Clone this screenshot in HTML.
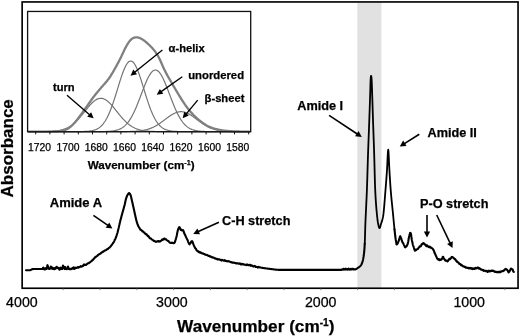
<!DOCTYPE html>
<html><head><meta charset="utf-8"><title>FTIR spectrum</title>
<style>
html,body{margin:0;padding:0;background:#fff;}
svg{display:block;font-family:"Liberation Sans",sans-serif;}
.b{font-weight:bold;}
</style></head><body>
<svg width="520" height="336" viewBox="0 0 520 336">
<rect width="520" height="336" fill="#fff"/>
<rect x="357.3" y="2.5" width="24.1" height="285.5" fill="#e1e1e1"/>
<rect x="22.15" y="1.95" width="495.9" height="286.3" fill="none" stroke="#000" stroke-width="1.65"/>
<line x1="63.20" y1="288.5" x2="63.20" y2="290.1" stroke="#777" stroke-width="0.9"/><line x1="100.00" y1="288.5" x2="100.00" y2="290.1" stroke="#777" stroke-width="0.9"/><line x1="136.80" y1="288.5" x2="136.80" y2="290.1" stroke="#777" stroke-width="0.9"/><line x1="173.60" y1="288.5" x2="173.60" y2="290.1" stroke="#777" stroke-width="0.9"/><line x1="210.40" y1="288.5" x2="210.40" y2="290.1" stroke="#777" stroke-width="0.9"/><line x1="247.20" y1="288.5" x2="247.20" y2="290.1" stroke="#777" stroke-width="0.9"/><line x1="284.00" y1="288.5" x2="284.00" y2="290.1" stroke="#777" stroke-width="0.9"/><line x1="320.80" y1="288.5" x2="320.80" y2="290.1" stroke="#777" stroke-width="0.9"/><line x1="357.60" y1="288.5" x2="357.60" y2="290.1" stroke="#777" stroke-width="0.9"/><line x1="394.40" y1="288.5" x2="394.40" y2="290.1" stroke="#777" stroke-width="0.9"/><line x1="431.20" y1="288.5" x2="431.20" y2="290.1" stroke="#777" stroke-width="0.9"/><line x1="468.00" y1="288.5" x2="468.00" y2="290.1" stroke="#777" stroke-width="0.9"/><line x1="504.80" y1="288.5" x2="504.80" y2="290.1" stroke="#777" stroke-width="0.9"/>
<g fill="none" stroke="#737373" stroke-width="1.2" stroke-linejoin="round">
<path d="M28.20,131.60 L28.70,131.60 L29.20,131.60 L29.70,131.60 L30.20,131.60 L30.70,131.60 L31.20,131.60 L31.70,131.60 L32.20,131.60 L32.70,131.60 L33.20,131.60 L33.70,131.59 L34.20,131.59 L34.70,131.59 L35.20,131.59 L35.70,131.59 L36.20,131.59 L36.70,131.59 L37.20,131.59 L37.70,131.59 L38.20,131.58 L38.70,131.58 L39.20,131.58 L39.70,131.58 L40.20,131.57 L40.70,131.57 L41.20,131.57 L41.70,131.56 L42.20,131.56 L42.70,131.55 L43.20,131.55 L43.70,131.54 L44.20,131.54 L44.70,131.53 L45.20,131.52 L45.70,131.51 L46.20,131.50 L46.70,131.49 L47.20,131.48 L47.70,131.46 L48.20,131.45 L48.70,131.43 L49.20,131.42 L49.70,131.40 L50.20,131.38 L50.70,131.35 L51.20,131.33 L51.70,131.30 L52.20,131.27 L52.70,131.24 L53.20,131.20 L53.70,131.16 L54.20,131.12 L54.70,131.08 L55.20,131.03 L55.70,130.97 L56.20,130.92 L56.70,130.85 L57.20,130.79 L57.70,130.72 L58.20,130.64 L58.70,130.56 L59.20,130.47 L59.70,130.37 L60.20,130.27 L60.70,130.16 L61.20,130.04 L61.70,129.92 L62.20,129.79 L62.70,129.65 L63.20,129.50 L63.70,129.34 L64.20,129.17 L64.70,128.99 L65.20,128.80 L65.70,128.60 L66.20,128.39 L66.70,128.16 L67.20,127.93 L67.70,127.68 L68.20,127.42 L68.70,127.15 L69.20,126.86 L69.70,126.56 L70.20,126.25 L70.70,125.93 L71.20,125.58 L71.70,125.23 L72.20,124.86 L72.70,124.48 L73.20,124.08 L73.70,123.67 L74.20,123.24 L74.70,122.80 L75.20,122.34 L75.70,121.87 L76.20,121.39 L76.70,120.89 L77.20,120.38 L77.70,119.86 L78.20,119.32 L78.70,118.77 L79.20,118.21 L79.70,117.64 L80.20,117.06 L80.70,116.47 L81.20,115.88 L81.70,115.27 L82.20,114.66 L82.70,114.04 L83.20,113.42 L83.70,112.79 L84.20,112.16 L84.70,111.53 L85.20,110.90 L85.70,110.27 L86.20,109.64 L86.70,109.02 L87.20,108.40 L87.70,107.78 L88.20,107.18 L88.70,106.58 L89.20,106.00 L89.70,105.42 L90.20,104.86 L90.70,104.32 L91.20,103.79 L91.70,103.27 L92.20,102.78 L92.70,102.31 L93.20,101.85 L93.70,101.42 L94.20,101.02 L94.70,100.63 L95.20,100.28 L95.70,99.95 L96.20,99.65 L96.70,99.38 L97.20,99.13 L97.70,98.92 L98.20,98.74 L98.70,98.59 L99.20,98.47 L99.70,98.38 L100.20,98.32 L100.70,98.30 L101.20,98.31 L101.70,98.35 L102.20,98.43 L102.70,98.53 L103.20,98.67 L103.70,98.84 L104.20,99.04 L104.70,99.27 L105.20,99.54 L105.70,99.83 L106.20,100.14 L106.70,100.49 L107.20,100.86 L107.70,101.26 L108.20,101.68 L108.70,102.12 L109.20,102.59 L109.70,103.07 L110.20,103.58 L110.70,104.10 L111.20,104.64 L111.70,105.20 L112.20,105.77 L112.70,106.35 L113.20,106.94 L113.70,107.54 L114.20,108.15 L114.70,108.77 L115.20,109.39 L115.70,110.02 L116.20,110.65 L116.70,111.28 L117.20,111.91 L117.70,112.54 L118.20,113.17 L118.70,113.79 L119.20,114.41 L119.70,115.03 L120.20,115.63 L120.70,116.23 L121.20,116.83 L121.70,117.41 L122.20,117.99 L122.70,118.55 L123.20,119.10 L123.70,119.64 L124.20,120.17 L124.70,120.69 L125.20,121.19 L125.70,121.68 L126.20,122.16 L126.70,122.62 L127.20,123.06 L127.70,123.50 L128.20,123.92 L128.70,124.32 L129.20,124.71 L129.70,125.08 L130.20,125.44 L130.70,125.79 L131.20,126.12 L131.70,126.44 L132.20,126.75 L132.70,127.04 L133.20,127.31 L133.70,127.58 L134.20,127.83 L134.70,128.07 L135.20,128.30 L135.70,128.51 L136.20,128.72 L136.70,128.91 L137.20,129.10 L137.70,129.27 L138.20,129.43 L138.70,129.59 L139.20,129.73 L139.70,129.87 L140.20,129.99 L140.70,130.11 L141.20,130.23 L141.70,130.33 L142.20,130.43 L142.70,130.52 L143.20,130.61 L143.70,130.69 L144.20,130.76 L144.70,130.83 L145.20,130.89 L145.70,130.95 L146.20,131.01 L146.70,131.06 L147.20,131.10 L147.70,131.15 L148.20,131.19 L148.70,131.22 L149.20,131.26 L149.70,131.29 L150.20,131.32 L150.70,131.34 L151.20,131.37 L151.70,131.39 L152.20,131.41 L152.70,131.43 L153.20,131.44 L153.70,131.46 L154.20,131.47 L154.70,131.49 L155.20,131.50 L155.70,131.51 L156.20,131.52 L156.70,131.53 L157.20,131.53 L157.70,131.54 L158.20,131.55 L158.70,131.55 L159.20,131.56 L159.70,131.56 L160.20,131.57 L160.70,131.57 L161.20,131.57 L161.70,131.58 L162.20,131.58 L162.70,131.58 L163.20,131.58 L163.70,131.59 L164.20,131.59 L164.70,131.59 L165.20,131.59 L165.70,131.59 L166.20,131.59 L166.70,131.59 L167.20,131.59 L167.70,131.59 L168.20,131.60 L168.70,131.60 L169.20,131.60 L169.70,131.60 L170.20,131.60 L170.70,131.60 L171.20,131.60 L171.70,131.60 L172.20,131.60 L172.70,131.60 L173.20,131.60 L173.70,131.60 L174.20,131.60 L174.70,131.60 L175.20,131.60 L175.70,131.60 L176.20,131.60 L176.70,131.60 L177.20,131.60 L177.70,131.60 L178.20,131.60 L178.70,131.60 L179.20,131.60 L179.70,131.60 L180.20,131.60 L180.70,131.60 L181.20,131.60 L181.70,131.60 L182.20,131.60 L182.70,131.60 L183.20,131.60 L183.70,131.60 L184.20,131.60 L184.70,131.60 L185.20,131.60 L185.70,131.60 L186.20,131.60 L186.70,131.60 L187.20,131.60 L187.70,131.60 L188.20,131.60 L188.70,131.60 L189.20,131.60 L189.70,131.60 L190.20,131.60 L190.70,131.60 L191.20,131.60 L191.70,131.60 L192.20,131.60 L192.70,131.60 L193.20,131.60 L193.70,131.60 L194.20,131.60 L194.70,131.60 L195.20,131.60 L195.70,131.60 L196.20,131.60 L196.70,131.60 L197.20,131.60 L197.70,131.60 L198.20,131.60 L198.70,131.60 L199.20,131.60 L199.70,131.60 L200.20,131.60 L200.70,131.60 L201.20,131.60 L201.70,131.60 L202.20,131.60 L202.70,131.60 L203.20,131.60 L203.70,131.60 L204.20,131.60 L204.70,131.60 L205.20,131.60 L205.70,131.60 L206.20,131.60 L206.70,131.60 L207.20,131.60 L207.70,131.60 L208.20,131.60 L208.70,131.60 L209.20,131.60 L209.70,131.60 L210.20,131.60 L210.70,131.60 L211.20,131.60 L211.70,131.60 L212.20,131.60 L212.70,131.60 L213.20,131.60 L213.70,131.60 L214.20,131.60 L214.70,131.60 L215.20,131.60 L215.70,131.60 L216.20,131.60 L216.70,131.60 L217.20,131.60 L217.70,131.60 L218.20,131.60 L218.70,131.60 L219.20,131.60 L219.70,131.60 L220.20,131.60 L220.70,131.60 L221.20,131.60 L221.70,131.60 L222.20,131.60 L222.70,131.60 L223.20,131.60 L223.70,131.60 L224.20,131.60 L224.70,131.60 L225.20,131.60 L225.70,131.60 L226.20,131.60 L226.70,131.60 L227.20,131.60 L227.70,131.60 L228.20,131.60 L228.70,131.60 L229.20,131.60 L229.70,131.60 L230.20,131.60 L230.70,131.60 L231.20,131.60 L231.70,131.60 L232.20,131.60 L232.70,131.60 L233.20,131.60 L233.70,131.60 L234.20,131.60 L234.70,131.60 L235.20,131.60 L235.70,131.60 L236.20,131.60 L236.70,131.60 L237.20,131.60 L237.70,131.60 L238.20,131.60 L238.70,131.60 L239.20,131.60 L239.70,131.60 L240.20,131.60 L240.70,131.60 L241.20,131.60 L241.70,131.60 L242.20,131.60 L242.70,131.60 L243.20,131.60 L243.70,131.60 L244.20,131.60 L244.70,131.60 L245.20,131.60 L245.70,131.60 L246.20,131.60 L246.70,131.60 L247.20,131.60 L247.70,131.60 L248.20,131.60 L248.70,131.60 L249.20,131.60 L249.70,131.60"/>
<path d="M28.20,131.60 L28.70,131.60 L29.20,131.60 L29.70,131.60 L30.20,131.60 L30.70,131.60 L31.20,131.60 L31.70,131.60 L32.20,131.60 L32.70,131.60 L33.20,131.60 L33.70,131.60 L34.20,131.60 L34.70,131.60 L35.20,131.60 L35.70,131.60 L36.20,131.60 L36.70,131.60 L37.20,131.60 L37.70,131.60 L38.20,131.60 L38.70,131.60 L39.20,131.60 L39.70,131.60 L40.20,131.60 L40.70,131.60 L41.20,131.60 L41.70,131.60 L42.20,131.60 L42.70,131.60 L43.20,131.60 L43.70,131.60 L44.20,131.60 L44.70,131.60 L45.20,131.60 L45.70,131.60 L46.20,131.60 L46.70,131.60 L47.20,131.60 L47.70,131.60 L48.20,131.60 L48.70,131.60 L49.20,131.60 L49.70,131.60 L50.20,131.60 L50.70,131.60 L51.20,131.60 L51.70,131.60 L52.20,131.60 L52.70,131.60 L53.20,131.60 L53.70,131.60 L54.20,131.60 L54.70,131.60 L55.20,131.60 L55.70,131.60 L56.20,131.60 L56.70,131.60 L57.20,131.60 L57.70,131.60 L58.20,131.60 L58.70,131.60 L59.20,131.60 L59.70,131.60 L60.20,131.60 L60.70,131.60 L61.20,131.60 L61.70,131.60 L62.20,131.60 L62.70,131.60 L63.20,131.60 L63.70,131.60 L64.20,131.60 L64.70,131.60 L65.20,131.60 L65.70,131.60 L66.20,131.60 L66.70,131.60 L67.20,131.60 L67.70,131.60 L68.20,131.60 L68.70,131.60 L69.20,131.60 L69.70,131.60 L70.20,131.60 L70.70,131.60 L71.20,131.60 L71.70,131.60 L72.20,131.60 L72.70,131.60 L73.20,131.60 L73.70,131.59 L74.20,131.59 L74.70,131.59 L75.20,131.59 L75.70,131.59 L76.20,131.59 L76.70,131.59 L77.20,131.58 L77.70,131.58 L78.20,131.58 L78.70,131.57 L79.20,131.57 L79.70,131.56 L80.20,131.56 L80.70,131.55 L81.20,131.54 L81.70,131.54 L82.20,131.53 L82.70,131.51 L83.20,131.50 L83.70,131.49 L84.20,131.47 L84.70,131.45 L85.20,131.43 L85.70,131.41 L86.20,131.38 L86.70,131.35 L87.20,131.32 L87.70,131.28 L88.20,131.23 L88.70,131.19 L89.20,131.13 L89.70,131.07 L90.20,131.01 L90.70,130.93 L91.20,130.85 L91.70,130.76 L92.20,130.66 L92.70,130.55 L93.20,130.43 L93.70,130.29 L94.20,130.14 L94.70,129.98 L95.20,129.80 L95.70,129.61 L96.20,129.40 L96.70,129.17 L97.20,128.92 L97.70,128.64 L98.20,128.35 L98.70,128.03 L99.20,127.68 L99.70,127.31 L100.20,126.90 L100.70,126.47 L101.20,126.01 L101.70,125.51 L102.20,124.98 L102.70,124.41 L103.20,123.80 L103.70,123.16 L104.20,122.48 L104.70,121.75 L105.20,120.98 L105.70,120.17 L106.20,119.32 L106.70,118.42 L107.20,117.47 L107.70,116.48 L108.20,115.45 L108.70,114.37 L109.20,113.24 L109.70,112.07 L110.20,110.85 L110.70,109.59 L111.20,108.28 L111.70,106.94 L112.20,105.55 L112.70,104.13 L113.20,102.67 L113.70,101.18 L114.20,99.66 L114.70,98.11 L115.20,96.54 L115.70,94.95 L116.20,93.34 L116.70,91.72 L117.20,90.09 L117.70,88.45 L118.20,86.82 L118.70,85.19 L119.20,83.58 L119.70,81.98 L120.20,80.40 L120.70,78.84 L121.20,77.32 L121.70,75.84 L122.20,74.40 L122.70,73.01 L123.20,71.67 L123.70,70.39 L124.20,69.18 L124.70,68.03 L125.20,66.96 L125.70,65.96 L126.20,65.04 L126.70,64.22 L127.20,63.48 L127.70,62.83 L128.20,62.27 L128.70,61.82 L129.20,61.46 L129.70,61.21 L130.20,61.05 L130.70,61.00 L131.20,61.05 L131.70,61.21 L132.20,61.46 L132.70,61.82 L133.20,62.27 L133.70,62.83 L134.20,63.48 L134.70,64.22 L135.20,65.04 L135.70,65.96 L136.20,66.96 L136.70,68.03 L137.20,69.18 L137.70,70.39 L138.20,71.67 L138.70,73.01 L139.20,74.40 L139.70,75.84 L140.20,77.32 L140.70,78.84 L141.20,80.40 L141.70,81.98 L142.20,83.58 L142.70,85.19 L143.20,86.82 L143.70,88.45 L144.20,90.09 L144.70,91.72 L145.20,93.34 L145.70,94.95 L146.20,96.54 L146.70,98.11 L147.20,99.66 L147.70,101.18 L148.20,102.67 L148.70,104.13 L149.20,105.55 L149.70,106.94 L150.20,108.28 L150.70,109.59 L151.20,110.85 L151.70,112.07 L152.20,113.24 L152.70,114.37 L153.20,115.45 L153.70,116.48 L154.20,117.47 L154.70,118.42 L155.20,119.32 L155.70,120.17 L156.20,120.98 L156.70,121.75 L157.20,122.48 L157.70,123.16 L158.20,123.80 L158.70,124.41 L159.20,124.98 L159.70,125.51 L160.20,126.01 L160.70,126.47 L161.20,126.90 L161.70,127.31 L162.20,127.68 L162.70,128.03 L163.20,128.35 L163.70,128.64 L164.20,128.92 L164.70,129.17 L165.20,129.40 L165.70,129.61 L166.20,129.80 L166.70,129.98 L167.20,130.14 L167.70,130.29 L168.20,130.43 L168.70,130.55 L169.20,130.66 L169.70,130.76 L170.20,130.85 L170.70,130.93 L171.20,131.01 L171.70,131.07 L172.20,131.13 L172.70,131.19 L173.20,131.23 L173.70,131.28 L174.20,131.32 L174.70,131.35 L175.20,131.38 L175.70,131.41 L176.20,131.43 L176.70,131.45 L177.20,131.47 L177.70,131.49 L178.20,131.50 L178.70,131.51 L179.20,131.53 L179.70,131.54 L180.20,131.54 L180.70,131.55 L181.20,131.56 L181.70,131.56 L182.20,131.57 L182.70,131.57 L183.20,131.58 L183.70,131.58 L184.20,131.58 L184.70,131.59 L185.20,131.59 L185.70,131.59 L186.20,131.59 L186.70,131.59 L187.20,131.59 L187.70,131.59 L188.20,131.60 L188.70,131.60 L189.20,131.60 L189.70,131.60 L190.20,131.60 L190.70,131.60 L191.20,131.60 L191.70,131.60 L192.20,131.60 L192.70,131.60 L193.20,131.60 L193.70,131.60 L194.20,131.60 L194.70,131.60 L195.20,131.60 L195.70,131.60 L196.20,131.60 L196.70,131.60 L197.20,131.60 L197.70,131.60 L198.20,131.60 L198.70,131.60 L199.20,131.60 L199.70,131.60 L200.20,131.60 L200.70,131.60 L201.20,131.60 L201.70,131.60 L202.20,131.60 L202.70,131.60 L203.20,131.60 L203.70,131.60 L204.20,131.60 L204.70,131.60 L205.20,131.60 L205.70,131.60 L206.20,131.60 L206.70,131.60 L207.20,131.60 L207.70,131.60 L208.20,131.60 L208.70,131.60 L209.20,131.60 L209.70,131.60 L210.20,131.60 L210.70,131.60 L211.20,131.60 L211.70,131.60 L212.20,131.60 L212.70,131.60 L213.20,131.60 L213.70,131.60 L214.20,131.60 L214.70,131.60 L215.20,131.60 L215.70,131.60 L216.20,131.60 L216.70,131.60 L217.20,131.60 L217.70,131.60 L218.20,131.60 L218.70,131.60 L219.20,131.60 L219.70,131.60 L220.20,131.60 L220.70,131.60 L221.20,131.60 L221.70,131.60 L222.20,131.60 L222.70,131.60 L223.20,131.60 L223.70,131.60 L224.20,131.60 L224.70,131.60 L225.20,131.60 L225.70,131.60 L226.20,131.60 L226.70,131.60 L227.20,131.60 L227.70,131.60 L228.20,131.60 L228.70,131.60 L229.20,131.60 L229.70,131.60 L230.20,131.60 L230.70,131.60 L231.20,131.60 L231.70,131.60 L232.20,131.60 L232.70,131.60 L233.20,131.60 L233.70,131.60 L234.20,131.60 L234.70,131.60 L235.20,131.60 L235.70,131.60 L236.20,131.60 L236.70,131.60 L237.20,131.60 L237.70,131.60 L238.20,131.60 L238.70,131.60 L239.20,131.60 L239.70,131.60 L240.20,131.60 L240.70,131.60 L241.20,131.60 L241.70,131.60 L242.20,131.60 L242.70,131.60 L243.20,131.60 L243.70,131.60 L244.20,131.60 L244.70,131.60 L245.20,131.60 L245.70,131.60 L246.20,131.60 L246.70,131.60 L247.20,131.60 L247.70,131.60 L248.20,131.60 L248.70,131.60 L249.20,131.60 L249.70,131.60"/>
<path d="M28.20,131.60 L28.70,131.60 L29.20,131.60 L29.70,131.60 L30.20,131.60 L30.70,131.60 L31.20,131.60 L31.70,131.60 L32.20,131.60 L32.70,131.60 L33.20,131.60 L33.70,131.60 L34.20,131.60 L34.70,131.60 L35.20,131.60 L35.70,131.60 L36.20,131.60 L36.70,131.60 L37.20,131.60 L37.70,131.60 L38.20,131.60 L38.70,131.60 L39.20,131.60 L39.70,131.60 L40.20,131.60 L40.70,131.60 L41.20,131.60 L41.70,131.60 L42.20,131.60 L42.70,131.60 L43.20,131.60 L43.70,131.60 L44.20,131.60 L44.70,131.60 L45.20,131.60 L45.70,131.60 L46.20,131.60 L46.70,131.60 L47.20,131.60 L47.70,131.60 L48.20,131.60 L48.70,131.60 L49.20,131.60 L49.70,131.60 L50.20,131.60 L50.70,131.60 L51.20,131.60 L51.70,131.60 L52.20,131.60 L52.70,131.60 L53.20,131.60 L53.70,131.60 L54.20,131.60 L54.70,131.60 L55.20,131.60 L55.70,131.60 L56.20,131.60 L56.70,131.60 L57.20,131.60 L57.70,131.60 L58.20,131.60 L58.70,131.60 L59.20,131.60 L59.70,131.60 L60.20,131.60 L60.70,131.60 L61.20,131.60 L61.70,131.60 L62.20,131.60 L62.70,131.60 L63.20,131.60 L63.70,131.60 L64.20,131.60 L64.70,131.60 L65.20,131.60 L65.70,131.60 L66.20,131.60 L66.70,131.60 L67.20,131.60 L67.70,131.60 L68.20,131.60 L68.70,131.60 L69.20,131.60 L69.70,131.60 L70.20,131.60 L70.70,131.60 L71.20,131.60 L71.70,131.60 L72.20,131.60 L72.70,131.60 L73.20,131.60 L73.70,131.60 L74.20,131.60 L74.70,131.60 L75.20,131.60 L75.70,131.60 L76.20,131.60 L76.70,131.60 L77.20,131.60 L77.70,131.60 L78.20,131.60 L78.70,131.60 L79.20,131.60 L79.70,131.60 L80.20,131.60 L80.70,131.60 L81.20,131.60 L81.70,131.60 L82.20,131.60 L82.70,131.60 L83.20,131.60 L83.70,131.60 L84.20,131.60 L84.70,131.60 L85.20,131.60 L85.70,131.60 L86.20,131.60 L86.70,131.60 L87.20,131.60 L87.70,131.60 L88.20,131.60 L88.70,131.60 L89.20,131.60 L89.70,131.60 L90.20,131.60 L90.70,131.60 L91.20,131.60 L91.70,131.60 L92.20,131.60 L92.70,131.60 L93.20,131.60 L93.70,131.60 L94.20,131.60 L94.70,131.59 L95.20,131.59 L95.70,131.59 L96.20,131.59 L96.70,131.59 L97.20,131.59 L97.70,131.59 L98.20,131.58 L98.70,131.58 L99.20,131.58 L99.70,131.57 L100.20,131.57 L100.70,131.57 L101.20,131.56 L101.70,131.56 L102.20,131.55 L102.70,131.54 L103.20,131.53 L103.70,131.53 L104.20,131.52 L104.70,131.50 L105.20,131.49 L105.70,131.48 L106.20,131.46 L106.70,131.44 L107.20,131.42 L107.70,131.40 L108.20,131.37 L108.70,131.34 L109.20,131.31 L109.70,131.28 L110.20,131.24 L110.70,131.20 L111.20,131.15 L111.70,131.09 L112.20,131.04 L112.70,130.97 L113.20,130.90 L113.70,130.82 L114.20,130.74 L114.70,130.64 L115.20,130.54 L115.70,130.43 L116.20,130.31 L116.70,130.18 L117.20,130.03 L117.70,129.87 L118.20,129.70 L118.70,129.52 L119.20,129.32 L119.70,129.10 L120.20,128.87 L120.70,128.62 L121.20,128.35 L121.70,128.06 L122.20,127.75 L122.70,127.42 L123.20,127.06 L123.70,126.68 L124.20,126.27 L124.70,125.84 L125.20,125.39 L125.70,124.90 L126.20,124.38 L126.70,123.84 L127.20,123.26 L127.70,122.66 L128.20,122.02 L128.70,121.34 L129.20,120.64 L129.70,119.90 L130.20,119.13 L130.70,118.32 L131.20,117.48 L131.70,116.60 L132.20,115.69 L132.70,114.74 L133.20,113.76 L133.70,112.75 L134.20,111.71 L134.70,110.63 L135.20,109.52 L135.70,108.39 L136.20,107.23 L136.70,106.04 L137.20,104.82 L137.70,103.58 L138.20,102.33 L138.70,101.05 L139.20,99.76 L139.70,98.46 L140.20,97.15 L140.70,95.83 L141.20,94.50 L141.70,93.18 L142.20,91.86 L142.70,90.54 L143.20,89.23 L143.70,87.94 L144.20,86.67 L144.70,85.41 L145.20,84.18 L145.70,82.98 L146.20,81.81 L146.70,80.68 L147.20,79.58 L147.70,78.53 L148.20,77.53 L148.70,76.58 L149.20,75.68 L149.70,74.83 L150.20,74.05 L150.70,73.33 L151.20,72.67 L151.70,72.08 L152.20,71.57 L152.70,71.12 L153.20,70.75 L153.70,70.45 L154.20,70.22 L154.70,70.08 L155.20,70.01 L155.70,70.01 L156.20,70.10 L156.70,70.26 L157.20,70.50 L157.70,70.81 L158.20,71.20 L158.70,71.66 L159.20,72.20 L159.70,72.80 L160.20,73.47 L160.70,74.20 L161.20,75.00 L161.70,75.85 L162.20,76.76 L162.70,77.73 L163.20,78.74 L163.70,79.80 L164.20,80.90 L164.70,82.04 L165.20,83.22 L165.70,84.43 L166.20,85.66 L166.70,86.92 L167.20,88.20 L167.70,89.49 L168.20,90.80 L168.70,92.12 L169.20,93.44 L169.70,94.77 L170.20,96.09 L170.70,97.41 L171.20,98.72 L171.70,100.02 L172.20,101.31 L172.70,102.58 L173.20,103.83 L173.70,105.07 L174.20,106.28 L174.70,107.46 L175.20,108.62 L175.70,109.75 L176.20,110.85 L176.70,111.92 L177.20,112.96 L177.70,113.96 L178.20,114.94 L178.70,115.87 L179.20,116.78 L179.70,117.65 L180.20,118.48 L180.70,119.28 L181.20,120.05 L181.70,120.78 L182.20,121.48 L182.70,122.15 L183.20,122.78 L183.70,123.38 L184.20,123.95 L184.70,124.49 L185.20,125.00 L185.70,125.48 L186.20,125.93 L186.70,126.36 L187.20,126.76 L187.70,127.13 L188.20,127.48 L188.70,127.81 L189.20,128.12 L189.70,128.40 L190.20,128.67 L190.70,128.92 L191.20,129.15 L191.70,129.36 L192.20,129.56 L192.70,129.74 L193.20,129.91 L193.70,130.06 L194.20,130.20 L194.70,130.33 L195.20,130.45 L195.70,130.56 L196.20,130.66 L196.70,130.76 L197.20,130.84 L197.70,130.92 L198.20,130.99 L198.70,131.05 L199.20,131.11 L199.70,131.16 L200.20,131.20 L200.70,131.25 L201.20,131.28 L201.70,131.32 L202.20,131.35 L202.70,131.38 L203.20,131.40 L203.70,131.43 L204.20,131.45 L204.70,131.46 L205.20,131.48 L205.70,131.49 L206.20,131.51 L206.70,131.52 L207.20,131.53 L207.70,131.54 L208.20,131.54 L208.70,131.55 L209.20,131.56 L209.70,131.56 L210.20,131.57 L210.70,131.57 L211.20,131.58 L211.70,131.58 L212.20,131.58 L212.70,131.58 L213.20,131.59 L213.70,131.59 L214.20,131.59 L214.70,131.59 L215.20,131.59 L215.70,131.59 L216.20,131.59 L216.70,131.60 L217.20,131.60 L217.70,131.60 L218.20,131.60 L218.70,131.60 L219.20,131.60 L219.70,131.60 L220.20,131.60 L220.70,131.60 L221.20,131.60 L221.70,131.60 L222.20,131.60 L222.70,131.60 L223.20,131.60 L223.70,131.60 L224.20,131.60 L224.70,131.60 L225.20,131.60 L225.70,131.60 L226.20,131.60 L226.70,131.60 L227.20,131.60 L227.70,131.60 L228.20,131.60 L228.70,131.60 L229.20,131.60 L229.70,131.60 L230.20,131.60 L230.70,131.60 L231.20,131.60 L231.70,131.60 L232.20,131.60 L232.70,131.60 L233.20,131.60 L233.70,131.60 L234.20,131.60 L234.70,131.60 L235.20,131.60 L235.70,131.60 L236.20,131.60 L236.70,131.60 L237.20,131.60 L237.70,131.60 L238.20,131.60 L238.70,131.60 L239.20,131.60 L239.70,131.60 L240.20,131.60 L240.70,131.60 L241.20,131.60 L241.70,131.60 L242.20,131.60 L242.70,131.60 L243.20,131.60 L243.70,131.60 L244.20,131.60 L244.70,131.60 L245.20,131.60 L245.70,131.60 L246.20,131.60 L246.70,131.60 L247.20,131.60 L247.70,131.60 L248.20,131.60 L248.70,131.60 L249.20,131.60 L249.70,131.60"/>
<path d="M28.20,131.60 L28.70,131.60 L29.20,131.60 L29.70,131.60 L30.20,131.60 L30.70,131.60 L31.20,131.60 L31.70,131.60 L32.20,131.60 L32.70,131.60 L33.20,131.60 L33.70,131.60 L34.20,131.60 L34.70,131.60 L35.20,131.60 L35.70,131.60 L36.20,131.60 L36.70,131.60 L37.20,131.60 L37.70,131.60 L38.20,131.60 L38.70,131.60 L39.20,131.60 L39.70,131.60 L40.20,131.60 L40.70,131.60 L41.20,131.60 L41.70,131.60 L42.20,131.60 L42.70,131.60 L43.20,131.60 L43.70,131.60 L44.20,131.60 L44.70,131.60 L45.20,131.60 L45.70,131.60 L46.20,131.60 L46.70,131.60 L47.20,131.60 L47.70,131.60 L48.20,131.60 L48.70,131.60 L49.20,131.60 L49.70,131.60 L50.20,131.60 L50.70,131.60 L51.20,131.60 L51.70,131.60 L52.20,131.60 L52.70,131.60 L53.20,131.60 L53.70,131.60 L54.20,131.60 L54.70,131.60 L55.20,131.60 L55.70,131.60 L56.20,131.60 L56.70,131.60 L57.20,131.60 L57.70,131.60 L58.20,131.60 L58.70,131.60 L59.20,131.60 L59.70,131.60 L60.20,131.60 L60.70,131.60 L61.20,131.60 L61.70,131.60 L62.20,131.60 L62.70,131.60 L63.20,131.60 L63.70,131.60 L64.20,131.60 L64.70,131.60 L65.20,131.60 L65.70,131.60 L66.20,131.60 L66.70,131.60 L67.20,131.60 L67.70,131.60 L68.20,131.60 L68.70,131.60 L69.20,131.60 L69.70,131.60 L70.20,131.60 L70.70,131.60 L71.20,131.60 L71.70,131.60 L72.20,131.60 L72.70,131.60 L73.20,131.60 L73.70,131.60 L74.20,131.60 L74.70,131.60 L75.20,131.60 L75.70,131.60 L76.20,131.60 L76.70,131.60 L77.20,131.60 L77.70,131.60 L78.20,131.60 L78.70,131.60 L79.20,131.60 L79.70,131.60 L80.20,131.60 L80.70,131.60 L81.20,131.60 L81.70,131.60 L82.20,131.60 L82.70,131.60 L83.20,131.60 L83.70,131.60 L84.20,131.60 L84.70,131.60 L85.20,131.60 L85.70,131.60 L86.20,131.60 L86.70,131.60 L87.20,131.60 L87.70,131.60 L88.20,131.60 L88.70,131.60 L89.20,131.60 L89.70,131.60 L90.20,131.60 L90.70,131.60 L91.20,131.60 L91.70,131.60 L92.20,131.60 L92.70,131.60 L93.20,131.60 L93.70,131.60 L94.20,131.60 L94.70,131.60 L95.20,131.60 L95.70,131.60 L96.20,131.60 L96.70,131.60 L97.20,131.60 L97.70,131.60 L98.20,131.60 L98.70,131.60 L99.20,131.60 L99.70,131.60 L100.20,131.60 L100.70,131.60 L101.20,131.60 L101.70,131.60 L102.20,131.60 L102.70,131.60 L103.20,131.60 L103.70,131.60 L104.20,131.60 L104.70,131.60 L105.20,131.60 L105.70,131.60 L106.20,131.60 L106.70,131.60 L107.20,131.60 L107.70,131.60 L108.20,131.60 L108.70,131.60 L109.20,131.60 L109.70,131.60 L110.20,131.60 L110.70,131.60 L111.20,131.60 L111.70,131.60 L112.20,131.60 L112.70,131.60 L113.20,131.60 L113.70,131.60 L114.20,131.60 L114.70,131.60 L115.20,131.60 L115.70,131.60 L116.20,131.59 L116.70,131.59 L117.20,131.59 L117.70,131.59 L118.20,131.59 L118.70,131.59 L119.20,131.59 L119.70,131.59 L120.20,131.59 L120.70,131.58 L121.20,131.58 L121.70,131.58 L122.20,131.58 L122.70,131.57 L123.20,131.57 L123.70,131.57 L124.20,131.56 L124.70,131.56 L125.20,131.55 L125.70,131.55 L126.20,131.54 L126.70,131.54 L127.20,131.53 L127.70,131.52 L128.20,131.51 L128.70,131.50 L129.20,131.49 L129.70,131.48 L130.20,131.47 L130.70,131.46 L131.20,131.44 L131.70,131.43 L132.20,131.41 L132.70,131.39 L133.20,131.37 L133.70,131.35 L134.20,131.32 L134.70,131.30 L135.20,131.27 L135.70,131.24 L136.20,131.21 L136.70,131.17 L137.20,131.13 L137.70,131.09 L138.20,131.04 L138.70,131.00 L139.20,130.94 L139.70,130.89 L140.20,130.83 L140.70,130.77 L141.20,130.70 L141.70,130.63 L142.20,130.55 L142.70,130.47 L143.20,130.38 L143.70,130.29 L144.20,130.19 L144.70,130.08 L145.20,129.97 L145.70,129.85 L146.20,129.73 L146.70,129.60 L147.20,129.46 L147.70,129.32 L148.20,129.17 L148.70,129.01 L149.20,128.84 L149.70,128.66 L150.20,128.48 L150.70,128.29 L151.20,128.09 L151.70,127.88 L152.20,127.66 L152.70,127.44 L153.20,127.20 L153.70,126.96 L154.20,126.71 L154.70,126.45 L155.20,126.18 L155.70,125.90 L156.20,125.61 L156.70,125.32 L157.20,125.02 L157.70,124.71 L158.20,124.39 L158.70,124.07 L159.20,123.73 L159.70,123.40 L160.20,123.05 L160.70,122.70 L161.20,122.35 L161.70,121.99 L162.20,121.62 L162.70,121.25 L163.20,120.88 L163.70,120.51 L164.20,120.13 L164.70,119.76 L165.20,119.38 L165.70,119.00 L166.20,118.63 L166.70,118.25 L167.20,117.88 L167.70,117.51 L168.20,117.15 L168.70,116.79 L169.20,116.44 L169.70,116.09 L170.20,115.75 L170.70,115.42 L171.20,115.10 L171.70,114.79 L172.20,114.49 L172.70,114.21 L173.20,113.93 L173.70,113.67 L174.20,113.42 L174.70,113.18 L175.20,112.97 L175.70,112.76 L176.20,112.58 L176.70,112.41 L177.20,112.25 L177.70,112.12 L178.20,112.00 L178.70,111.90 L179.20,111.83 L179.70,111.77 L180.20,111.72 L180.70,111.70 L181.20,111.70 L181.70,111.72 L182.20,111.76 L182.70,111.81 L183.20,111.89 L183.70,111.98 L184.20,112.09 L184.70,112.23 L185.20,112.37 L185.70,112.54 L186.20,112.72 L186.70,112.92 L187.20,113.14 L187.70,113.37 L188.20,113.62 L188.70,113.88 L189.20,114.15 L189.70,114.43 L190.20,114.73 L190.70,115.04 L191.20,115.36 L191.70,115.69 L192.20,116.02 L192.70,116.37 L193.20,116.72 L193.70,117.08 L194.20,117.44 L194.70,117.81 L195.20,118.18 L195.70,118.55 L196.20,118.93 L196.70,119.30 L197.20,119.68 L197.70,120.06 L198.20,120.43 L198.70,120.81 L199.20,121.18 L199.70,121.55 L200.20,121.91 L200.70,122.27 L201.20,122.63 L201.70,122.98 L202.20,123.33 L202.70,123.67 L203.20,124.00 L203.70,124.33 L204.20,124.64 L204.70,124.96 L205.20,125.26 L205.70,125.56 L206.20,125.84 L206.70,126.12 L207.20,126.39 L207.70,126.66 L208.20,126.91 L208.70,127.15 L209.20,127.39 L209.70,127.62 L210.20,127.84 L210.70,128.05 L211.20,128.25 L211.70,128.44 L212.20,128.63 L212.70,128.80 L213.20,128.97 L213.70,129.13 L214.20,129.29 L214.70,129.43 L215.20,129.57 L215.70,129.71 L216.20,129.83 L216.70,129.95 L217.20,130.06 L217.70,130.17 L218.20,130.27 L218.70,130.36 L219.20,130.45 L219.70,130.53 L220.20,130.61 L220.70,130.68 L221.20,130.75 L221.70,130.82 L222.20,130.88 L222.70,130.93 L223.20,130.99 L223.70,131.03 L224.20,131.08 L224.70,131.12 L225.20,131.16 L225.70,131.20 L226.20,131.23 L226.70,131.26 L227.20,131.29 L227.70,131.32 L228.20,131.34 L228.70,131.37 L229.20,131.39 L229.70,131.41 L230.20,131.42 L230.70,131.44 L231.20,131.46 L231.70,131.47 L232.20,131.48 L232.70,131.49 L233.20,131.50 L233.70,131.51 L234.20,131.52 L234.70,131.53 L235.20,131.54 L235.70,131.54 L236.20,131.55 L236.70,131.55 L237.20,131.56 L237.70,131.56 L238.20,131.57 L238.70,131.57 L239.20,131.57 L239.70,131.58 L240.20,131.58 L240.70,131.58 L241.20,131.58 L241.70,131.59 L242.20,131.59 L242.70,131.59 L243.20,131.59 L243.70,131.59 L244.20,131.59 L244.70,131.59 L245.20,131.59 L245.70,131.59 L246.20,131.60 L246.70,131.60 L247.20,131.60 L247.70,131.60 L248.20,131.60 L248.70,131.60 L249.20,131.60 L249.70,131.60"/>
</g>
<path d="M28.20,131.60 L28.70,131.60 L29.20,131.60 L29.70,131.60 L30.20,131.60 L30.70,131.60 L31.20,131.60 L31.70,131.60 L32.20,131.60 L32.70,131.60 L33.20,131.60 L33.70,131.60 L34.20,131.60 L34.70,131.60 L35.20,131.60 L35.70,131.60 L36.20,131.60 L36.70,131.60 L37.20,131.60 L37.70,131.60 L38.20,131.60 L38.70,131.60 L39.20,131.60 L39.70,131.60 L40.20,131.60 L40.70,131.60 L41.20,131.60 L41.70,131.60 L42.20,131.60 L42.70,131.60 L43.20,131.60 L43.70,131.60 L44.20,131.60 L44.70,131.60 L45.20,131.60 L45.70,131.60 L46.20,131.60 L46.70,131.60 L47.20,131.60 L47.70,131.60 L48.20,131.59 L48.70,131.59 L49.20,131.59 L49.70,131.58 L50.20,131.58 L50.70,131.57 L51.20,131.56 L51.70,131.55 L52.20,131.54 L52.70,131.52 L53.20,131.51 L53.70,131.49 L54.20,131.47 L54.70,131.45 L55.20,131.42 L55.70,131.40 L56.20,131.37 L56.70,131.34 L57.20,131.31 L57.70,131.28 L58.20,131.24 L58.70,131.20 L59.20,131.16 L59.70,131.11 L60.20,131.06 L60.70,131.00 L61.20,130.93 L61.70,130.85 L62.20,130.76 L62.70,130.66 L63.20,130.55 L63.70,130.42 L64.20,130.27 L64.70,130.11 L65.20,129.93 L65.70,129.72 L66.20,129.50 L66.70,129.27 L67.20,129.01 L67.70,128.73 L68.20,128.43 L68.70,128.12 L69.20,127.78 L69.70,127.42 L70.20,127.04 L70.70,126.64 L71.20,126.21 L71.70,125.76 L72.20,125.29 L72.70,124.80 L73.20,124.29 L73.70,123.76 L74.20,123.21 L74.70,122.64 L75.20,122.06 L75.70,121.46 L76.20,120.86 L76.70,120.23 L77.20,119.60 L77.70,118.96 L78.20,118.31 L78.70,117.65 L79.20,116.98 L79.70,116.31 L80.20,115.63 L80.70,114.95 L81.20,114.26 L81.70,113.57 L82.20,112.87 L82.70,112.18 L83.20,111.48 L83.70,110.78 L84.20,110.08 L84.70,109.38 L85.20,108.68 L85.70,107.97 L86.20,107.27 L86.70,106.57 L87.20,105.86 L87.70,105.15 L88.20,104.44 L88.70,103.73 L89.20,103.02 L89.70,102.30 L90.20,101.59 L90.70,100.88 L91.20,100.17 L91.70,99.47 L92.20,98.78 L92.70,98.10 L93.20,97.42 L93.70,96.76 L94.20,96.10 L94.70,95.46 L95.20,94.83 L95.70,94.20 L96.20,93.58 L96.70,92.97 L97.20,92.36 L97.70,91.76 L98.20,91.16 L98.70,90.56 L99.20,89.96 L99.70,89.37 L100.20,88.79 L100.70,88.20 L101.20,87.62 L101.70,87.05 L102.20,86.47 L102.70,85.91 L103.20,85.34 L103.70,84.78 L104.20,84.21 L104.70,83.65 L105.20,83.08 L105.70,82.50 L106.20,81.91 L106.70,81.31 L107.20,80.70 L107.70,80.06 L108.20,79.40 L108.70,78.72 L109.20,78.02 L109.70,77.29 L110.20,76.54 L110.70,75.76 L111.20,74.97 L111.70,74.15 L112.20,73.32 L112.70,72.48 L113.20,71.62 L113.70,70.76 L114.20,69.89 L114.70,69.01 L115.20,68.12 L115.70,67.23 L116.20,66.33 L116.70,65.42 L117.20,64.51 L117.70,63.58 L118.20,62.64 L118.70,61.69 L119.20,60.72 L119.70,59.73 L120.20,58.73 L120.70,57.70 L121.20,56.67 L121.70,55.62 L122.20,54.56 L122.70,53.50 L123.20,52.45 L123.70,51.39 L124.20,50.36 L124.70,49.33 L125.20,48.34 L125.70,47.36 L126.20,46.42 L126.70,45.51 L127.20,44.64 L127.70,43.82 L128.20,43.03 L128.70,42.30 L129.20,41.61 L129.70,40.98 L130.20,40.40 L130.70,39.87 L131.20,39.40 L131.70,38.98 L132.20,38.62 L132.70,38.30 L133.20,38.04 L133.70,37.82 L134.20,37.64 L134.70,37.50 L135.20,37.40 L135.70,37.34 L136.20,37.32 L136.70,37.33 L137.20,37.37 L137.70,37.44 L138.20,37.54 L138.70,37.68 L139.20,37.84 L139.70,38.02 L140.20,38.23 L140.70,38.46 L141.20,38.72 L141.70,39.00 L142.20,39.29 L142.70,39.61 L143.20,39.94 L143.70,40.29 L144.20,40.65 L144.70,41.03 L145.20,41.43 L145.70,41.83 L146.20,42.25 L146.70,42.68 L147.20,43.12 L147.70,43.57 L148.20,44.02 L148.70,44.49 L149.20,44.96 L149.70,45.45 L150.20,45.94 L150.70,46.45 L151.20,46.97 L151.70,47.50 L152.20,48.04 L152.70,48.60 L153.20,49.17 L153.70,49.76 L154.20,50.37 L154.70,50.99 L155.20,51.65 L155.70,52.33 L156.20,53.04 L156.70,53.78 L157.20,54.57 L157.70,55.40 L158.20,56.29 L158.70,57.22 L159.20,58.21 L159.70,59.24 L160.20,60.31 L160.70,61.43 L161.20,62.56 L161.70,63.71 L162.20,64.87 L162.70,66.01 L163.20,67.14 L163.70,68.24 L164.20,69.31 L164.70,70.34 L165.20,71.34 L165.70,72.31 L166.20,73.25 L166.70,74.17 L167.20,75.07 L167.70,75.95 L168.20,76.83 L168.70,77.70 L169.20,78.56 L169.70,79.43 L170.20,80.29 L170.70,81.15 L171.20,82.01 L171.70,82.87 L172.20,83.73 L172.70,84.59 L173.20,85.45 L173.70,86.30 L174.20,87.16 L174.70,88.01 L175.20,88.86 L175.70,89.71 L176.20,90.55 L176.70,91.39 L177.20,92.23 L177.70,93.06 L178.20,93.89 L178.70,94.72 L179.20,95.54 L179.70,96.36 L180.20,97.17 L180.70,97.97 L181.20,98.77 L181.70,99.56 L182.20,100.34 L182.70,101.12 L183.20,101.89 L183.70,102.65 L184.20,103.40 L184.70,104.14 L185.20,104.86 L185.70,105.58 L186.20,106.28 L186.70,106.96 L187.20,107.64 L187.70,108.30 L188.20,108.94 L188.70,109.57 L189.20,110.19 L189.70,110.79 L190.20,111.38 L190.70,111.96 L191.20,112.53 L191.70,113.08 L192.20,113.63 L192.70,114.16 L193.20,114.68 L193.70,115.20 L194.20,115.70 L194.70,116.19 L195.20,116.67 L195.70,117.15 L196.20,117.61 L196.70,118.07 L197.20,118.51 L197.70,118.95 L198.20,119.38 L198.70,119.80 L199.20,120.22 L199.70,120.62 L200.20,121.02 L200.70,121.41 L201.20,121.79 L201.70,122.16 L202.20,122.53 L202.70,122.88 L203.20,123.23 L203.70,123.57 L204.20,123.90 L204.70,124.22 L205.20,124.53 L205.70,124.83 L206.20,125.13 L206.70,125.41 L207.20,125.69 L207.70,125.95 L208.20,126.21 L208.70,126.45 L209.20,126.69 L209.70,126.92 L210.20,127.13 L210.70,127.34 L211.20,127.54 L211.70,127.73 L212.20,127.91 L212.70,128.09 L213.20,128.25 L213.70,128.41 L214.20,128.57 L214.70,128.71 L215.20,128.86 L215.70,128.99 L216.20,129.12 L216.70,129.24 L217.20,129.36 L217.70,129.48 L218.20,129.59 L218.70,129.69 L219.20,129.79 L219.70,129.89 L220.20,129.98 L220.70,130.07 L221.20,130.15 L221.70,130.23 L222.20,130.31 L222.70,130.39 L223.20,130.46 L223.70,130.52 L224.20,130.59 L224.70,130.65 L225.20,130.70 L225.70,130.76 L226.20,130.81 L226.70,130.86 L227.20,130.90 L227.70,130.95 L228.20,130.99 L228.70,131.03 L229.20,131.07 L229.70,131.11 L230.20,131.14 L230.70,131.18 L231.20,131.21 L231.70,131.24 L232.20,131.27 L232.70,131.30 L233.20,131.33 L233.70,131.35 L234.20,131.38 L234.70,131.40 L235.20,131.42 L235.70,131.44 L236.20,131.45 L236.70,131.47 L237.20,131.48 L237.70,131.49 L238.20,131.50 L238.70,131.51 L239.20,131.52 L239.70,131.53 L240.20,131.53 L240.70,131.54 L241.20,131.54 L241.70,131.55 L242.20,131.56 L242.70,131.56 L243.20,131.56 L243.70,131.57 L244.20,131.57 L244.70,131.58 L245.20,131.58 L245.70,131.58 L246.20,131.59 L246.70,131.59 L247.20,131.59 L247.70,131.59 L248.20,131.59 L248.70,131.60 L249.20,131.60 L249.70,131.60" fill="none" stroke="#808080" stroke-width="2.3" stroke-linejoin="round"/>
<rect x="27.6" y="11.45" width="223.1" height="120.3" fill="none" stroke="#111" stroke-width="1.3"/>
<line x1="35.70" y1="132" x2="35.70" y2="134.4" stroke="#111" stroke-width="1"/><line x1="49.90" y1="132" x2="49.90" y2="134.4" stroke="#111" stroke-width="1"/><line x1="64.10" y1="132" x2="64.10" y2="134.4" stroke="#111" stroke-width="1"/><line x1="78.30" y1="132" x2="78.30" y2="134.4" stroke="#111" stroke-width="1"/><line x1="92.50" y1="132" x2="92.50" y2="134.4" stroke="#111" stroke-width="1"/><line x1="106.70" y1="132" x2="106.70" y2="134.4" stroke="#111" stroke-width="1"/><line x1="120.90" y1="132" x2="120.90" y2="134.4" stroke="#111" stroke-width="1"/><line x1="135.10" y1="132" x2="135.10" y2="134.4" stroke="#111" stroke-width="1"/><line x1="149.30" y1="132" x2="149.30" y2="134.4" stroke="#111" stroke-width="1"/><line x1="163.50" y1="132" x2="163.50" y2="134.4" stroke="#111" stroke-width="1"/><line x1="177.70" y1="132" x2="177.70" y2="134.4" stroke="#111" stroke-width="1"/><line x1="191.90" y1="132" x2="191.90" y2="134.4" stroke="#111" stroke-width="1"/><line x1="206.10" y1="132" x2="206.10" y2="134.4" stroke="#111" stroke-width="1"/><line x1="220.30" y1="132" x2="220.30" y2="134.4" stroke="#111" stroke-width="1"/><line x1="234.50" y1="132" x2="234.50" y2="134.4" stroke="#111" stroke-width="1"/><line x1="248.70" y1="132" x2="248.70" y2="134.4" stroke="#111" stroke-width="1"/>
<g fill="none" stroke="#000" stroke-linejoin="round" stroke-linecap="round">
<path d="M26.00,270.20 L26.25,270.20 L26.50,270.20 L26.75,270.20 L27.00,270.20 L27.25,270.20 L27.50,270.20 L27.75,270.20 L28.00,270.20 L28.25,270.20 L28.50,270.20 L28.75,270.20 L29.00,270.20 L29.25,270.20 L29.50,270.20 L29.75,270.20 L30.00,270.20 L30.25,270.17 L30.50,270.09 L30.75,269.97 L31.00,269.82 L31.25,269.66 L31.50,269.50 L31.75,269.35 L32.00,269.23 L32.25,269.14 L32.50,269.10 L32.75,269.09 L33.00,269.08 L33.25,269.07 L33.50,269.06 L33.75,269.06 L34.00,269.05 L34.25,269.04 L34.50,269.04 L34.75,269.03 L35.00,269.03 L35.25,269.02 L35.50,269.02 L35.75,269.02 L36.00,269.01 L36.25,269.01 L36.50,269.01 L36.75,269.00 L37.00,269.00 L37.25,269.00 L37.50,269.00 L37.75,269.00 L38.00,269.00 L38.25,269.00 L38.50,269.00 L38.75,269.00 L39.00,269.00 L39.25,269.00 L39.50,269.00 L39.75,269.00 L40.00,269.00 L40.25,269.00 L40.50,269.00 L40.75,269.00 L41.00,269.00 L41.25,269.00 L41.50,269.00 L41.75,269.00 L42.00,269.00 L42.25,269.00 L42.50,269.00 L42.75,269.03 L43.00,267.68 L43.25,267.66 L43.50,269.02 L43.75,268.15 L44.00,268.14 L44.25,269.31 L44.50,269.49 L44.75,269.29 L45.00,269.32 L45.25,269.43 L45.50,268.52 L45.75,268.23 L46.00,268.53 L46.25,267.89 L46.50,268.30 L46.75,268.78 L47.00,267.61 L47.25,265.90 L47.50,265.19 L47.75,265.91 L48.00,266.66 L48.25,268.11 L48.50,268.35 L48.75,268.51 L49.00,268.88 L49.25,268.53 L49.50,268.72 L49.75,268.86 L50.00,268.33 L50.25,267.80 L50.50,267.60 L50.75,266.57 L51.00,266.69 L51.25,268.09 L51.50,268.65 L51.75,267.46 L52.00,267.40 L52.25,268.41 L52.50,268.26 L52.75,268.90 L53.00,268.55 L53.25,268.18 L53.50,269.08 L53.75,268.30 L54.00,268.13 L54.25,268.95 L54.50,268.75 L54.75,269.15 L55.00,268.17 L55.25,267.98 L55.50,268.78 L55.75,268.17 L56.00,267.75 L56.25,267.18 L56.50,266.74 L56.75,266.91 L57.00,267.75 L57.25,267.57 L57.50,267.94 L57.75,267.97 L58.00,267.68 L58.25,268.10 L58.50,268.71 L58.75,268.39 L59.00,268.05 L59.25,269.21 L59.50,269.58 L59.75,268.93 L60.00,268.73 L60.25,268.10 L60.50,267.68 L60.75,268.42 L61.00,269.05 L61.25,268.42 L61.50,268.19 L61.75,268.96 L62.00,268.81 L62.25,268.97 L62.50,268.04 L62.75,266.47 L63.00,265.58 L63.25,265.86 L63.50,266.64 L63.75,267.05 L64.00,268.25 L64.25,268.55 L64.50,268.85 L64.75,269.11 L65.00,267.06 L65.25,267.00 L65.50,268.66 L65.75,268.98 L66.00,268.72 L66.25,268.81 L66.50,269.08 L66.75,269.25 L67.00,269.11 L67.25,268.41 L67.50,268.39 L67.75,267.14 L68.00,266.58 L68.25,267.34 L68.50,268.22 L68.75,269.03 L69.00,268.36 L69.25,268.72 L69.50,269.24 L69.75,268.82 L70.00,268.73 L70.25,269.03 L70.50,269.12 L70.75,269.20 L71.00,269.27 L71.25,268.87 L71.50,268.66 L71.75,268.80 L72.00,268.65 L72.25,268.61 L72.50,268.57 L72.75,267.90 L73.00,267.95 L73.25,268.54 L73.50,268.41 L73.75,267.39 L74.00,267.48 L74.25,268.90 L74.50,268.82 L74.75,268.55 L75.00,268.31 L75.25,268.38 L75.50,267.91 L75.75,267.62 L76.00,267.99 L76.25,267.99 L76.50,267.92 L76.75,267.88 L77.00,267.68 L77.25,267.59 L77.50,267.25 L77.75,267.05 L78.00,267.49 L78.25,267.66 L78.50,267.21 L78.75,266.94 L79.00,267.03 L79.25,267.04 L79.50,267.15 L79.75,266.94 L80.00,266.74 L80.25,266.65 L80.50,266.38 L80.75,266.18 L81.00,266.42 L81.25,266.72 L81.50,266.51 L81.75,266.19 L82.00,266.22 L82.25,266.31 L82.50,265.90 L82.75,265.59 L83.00,265.79 L83.25,265.86 L83.50,265.35 L83.75,264.46 L84.00,264.74 L84.25,265.01 L84.50,264.46 L84.75,264.48 L85.00,264.69 L85.25,265.03 L85.50,264.90 L85.75,264.77 L86.00,264.84 L86.25,264.64 L86.50,264.40 L86.75,264.05 L87.00,264.01 L87.25,263.87 L87.50,263.72 L87.75,263.38 L88.00,263.27 L88.25,263.27 L88.50,263.23 L88.75,263.15 L89.00,262.92 L89.25,262.78 L89.50,262.55 L89.75,262.37 L90.00,262.27 L90.25,262.13 L90.50,261.89 L90.75,261.62 L91.00,261.37 L91.25,261.26 L91.50,261.05 L91.75,260.87 L92.00,260.48 L92.25,260.26 L92.50,260.11 L92.75,259.88 L93.00,259.75 L93.25,259.42 L93.50,259.27 L93.75,258.74 L94.00,258.56 L94.25,258.25 L94.50,258.12 L94.75,257.84 L95.00,257.59 L95.25,257.32 L95.50,256.94 L95.75,256.80 L96.00,256.71 L96.25,256.63 L96.50,256.46 L96.75,256.18 L97.00,255.96 L97.25,255.67 L97.50,255.68 L97.75,255.50 L98.00,255.20 L98.25,254.76 L98.50,254.69 L98.75,254.56 L99.00,254.43 L99.25,254.15 L99.50,254.00 L99.75,253.95 L100.00,253.89 L100.25,253.74 L100.50,253.57 L100.75,253.18 L101.00,253.00 L101.25,252.75 L101.50,252.68 L101.75,252.55 L102.00,252.43 L102.25,252.12 L102.50,251.93 L102.75,251.60 L103.00,251.63 L103.25,251.61 L103.50,251.59 L103.75,251.25 L104.00,251.04 L104.25,250.87 L104.50,250.70 L104.75,250.47 L105.00,250.35 L105.25,250.40 L105.50,250.36 L105.75,250.21 L106.00,250.04 L106.25,249.89 L106.50,249.69 L106.75,249.44 L107.00,249.25 L107.25,249.08 L107.50,249.19 L107.75,249.06 L108.00,248.92 L108.25,248.53 L108.50,248.31 L108.75,248.09 L109.00,247.95 L109.25,247.74 L109.50,247.60 L109.75,247.26 L110.00,247.04 L110.25,246.79 L110.50,246.49 L110.75,246.19 L111.00,245.85 L111.25,245.63 L111.50,245.26 L111.75,244.77 L112.00,244.56 L112.25,244.19 L112.50,243.89 L112.75,243.49 L113.00,243.05 L113.25,242.84 L113.50,242.41 L113.75,242.19 L114.00,241.64 L114.25,241.03 L114.50,240.33 L114.75,239.95 L115.00,239.48 L115.25,239.04 L115.50,238.47 L115.75,237.86 L116.00,237.27 L116.25,236.48 L116.50,235.83 L116.75,235.02 L117.00,234.19 L117.25,233.48 L117.50,232.75 L117.75,231.63 L118.00,230.41 L118.25,229.41 L118.50,228.60 L118.75,227.60 L119.00,226.48 L119.25,225.16 L119.50,224.17 L119.75,223.03 L120.00,222.21 L120.25,221.05 L120.50,220.06 L120.75,219.10 L121.00,218.14 L121.25,217.19 L121.50,216.25 L121.75,215.33 L122.00,214.42 L122.25,213.52 L122.50,212.62 L122.75,211.72 L123.00,210.82 L123.25,209.92 L123.50,209.02 L123.75,208.14 L124.00,207.25 L124.25,206.34 L124.50,205.39 L124.75,204.38 L125.00,203.26 L125.25,202.08 L125.50,200.90 L125.75,199.80 L126.00,198.83 L126.25,198.03 L126.50,197.29 L126.75,196.61 L127.00,195.99 L127.25,195.45 L127.50,195.00 L127.75,194.59 L128.00,194.18 L128.25,193.80 L128.50,193.47 L128.75,193.24 L129.00,193.11 L129.25,193.13 L129.50,193.30 L129.75,193.60 L130.00,194.01 L130.25,194.48 L130.50,194.99 L130.75,195.58 L131.00,196.44 L131.25,197.51 L131.50,198.67 L131.75,199.84 L132.00,200.92 L132.25,202.00 L132.50,203.09 L132.75,204.19 L133.00,205.30 L133.25,206.42 L133.50,207.55 L133.75,208.68 L134.00,209.84 L134.25,211.01 L134.50,212.17 L134.75,213.32 L135.00,214.45 L135.25,215.59 L135.50,216.72 L135.75,217.84 L136.00,218.92 L136.25,219.93 L136.50,220.87 L136.75,221.78 L137.00,222.65 L137.25,223.46 L137.50,224.19 L137.75,224.82 L138.00,225.34 L138.25,226.08 L138.50,226.51 L138.75,226.88 L139.00,227.31 L139.25,227.77 L139.50,228.07 L139.75,228.50 L140.00,228.96 L140.25,229.61 L140.50,229.74 L140.75,229.90 L141.00,229.93 L141.25,230.04 L141.50,230.24 L141.75,230.55 L142.00,230.82 L142.25,231.26 L142.50,231.25 L142.75,231.45 L143.00,231.34 L143.25,231.91 L143.50,232.18 L143.75,232.42 L144.00,232.34 L144.25,232.47 L144.50,232.55 L144.75,232.98 L145.00,233.35 L145.25,233.83 L145.50,233.83 L145.75,234.27 L146.00,234.24 L146.25,234.28 L146.50,234.15 L146.75,234.52 L147.00,235.11 L147.25,235.26 L147.50,235.56 L147.75,235.92 L148.00,236.19 L148.25,236.27 L148.50,236.09 L148.75,236.48 L149.00,236.92 L149.25,237.46 L149.50,237.77 L149.75,238.07 L150.00,238.21 L150.25,238.44 L150.50,238.34 L150.75,238.42 L151.00,238.51 L151.25,238.71 L151.50,239.06 L151.75,239.39 L152.00,239.73 L152.25,239.76 L152.50,239.69 L152.75,239.99 L153.00,240.17 L153.25,240.45 L153.50,240.41 L153.75,240.68 L154.00,240.95 L154.25,241.05 L154.50,240.99 L154.75,241.13 L155.00,241.31 L155.25,241.64 L155.50,241.50 L155.75,241.58 L156.00,241.65 L156.25,241.82 L156.50,241.68 L156.75,241.47 L157.00,241.34 L157.25,241.39 L157.50,241.49 L157.75,241.33 L158.00,241.00 L158.25,240.96 L158.50,241.13 L158.75,241.47 L159.00,241.60 L159.25,241.58 L159.50,241.42 L159.75,241.31 L160.00,241.16 L160.25,241.32 L160.50,241.14 L160.75,241.10 L161.00,240.84 L161.25,240.66 L161.50,240.25 L161.75,240.05 L162.00,239.58 L162.25,239.65 L162.50,239.58 L162.75,239.95 L163.00,239.77 L163.25,239.42 L163.50,238.84 L163.75,238.95 L164.00,238.80 L164.25,239.08 L164.50,238.56 L164.75,238.77 L165.00,238.81 L165.25,239.22 L165.50,239.34 L165.75,239.28 L166.00,239.26 L166.25,239.55 L166.50,239.86 L166.75,240.12 L167.00,240.19 L167.25,240.19 L167.50,240.50 L167.75,240.78 L168.00,240.95 L168.25,241.00 L168.50,241.16 L168.75,241.38 L169.00,241.84 L169.25,242.11 L169.50,242.38 L169.75,242.46 L170.00,242.68 L170.25,242.74 L170.50,242.85 L170.75,242.75 L171.00,242.97 L171.25,243.03 L171.50,243.00 L171.75,242.85 L172.00,242.59 L172.25,242.65 L172.50,242.90 L172.75,243.07 L173.00,243.06 L173.25,242.97 L173.50,243.14 L173.75,243.22 L174.00,243.13 L174.25,242.90 L174.50,242.74 L174.75,242.33 L175.00,241.73 L175.25,240.87 L175.50,240.01 L175.75,239.32 L176.00,238.18 L176.25,237.62 L176.50,236.60 L176.75,235.66 L177.00,234.28 L177.25,232.81 L177.50,231.73 L177.75,230.61 L178.00,229.77 L178.25,228.96 L178.50,228.40 L178.75,227.85 L179.00,227.46 L179.25,227.08 L179.50,227.24 L179.75,227.51 L180.00,228.26 L180.25,229.13 L180.50,229.60 L180.75,229.79 L181.00,229.41 L181.25,229.50 L181.50,229.78 L181.75,230.04 L182.00,230.46 L182.25,230.18 L182.50,230.22 L182.75,229.99 L183.00,230.12 L183.25,230.41 L183.50,231.01 L183.75,231.91 L184.00,232.59 L184.25,233.33 L184.50,233.79 L184.75,234.43 L185.00,234.73 L185.25,235.40 L185.50,235.82 L185.75,236.48 L186.00,236.80 L186.25,237.48 L186.50,238.02 L186.75,238.53 L187.00,238.92 L187.25,239.38 L187.50,239.96 L187.75,240.54 L188.00,241.27 L188.25,242.03 L188.50,242.68 L188.75,242.94 L189.00,243.46 L189.25,244.01 L189.50,244.32 L189.75,244.04 L190.00,243.35 L190.25,243.21 L190.50,242.78 L190.75,242.86 L191.00,242.04 L191.25,241.79 L191.50,241.33 L191.75,241.37 L192.00,241.18 L192.25,241.29 L192.50,241.70 L192.75,242.36 L193.00,243.05 L193.25,243.79 L193.50,244.51 L193.75,245.20 L194.00,245.72 L194.25,246.29 L194.50,246.61 L194.75,247.28 L195.00,247.61 L195.25,248.30 L195.50,248.28 L195.75,248.76 L196.00,248.84 L196.25,249.70 L196.50,250.16 L196.75,250.45 L197.00,250.47 L197.25,250.80 L197.50,251.14 L197.75,251.45 L198.00,251.26 L198.25,251.23 L198.50,251.38 L198.75,251.99 L199.00,252.24 L199.25,252.37 L199.50,252.08 L199.75,252.42 L200.00,252.40 L200.25,252.57 L200.50,252.29 L200.75,252.40 L201.00,252.58 L201.25,253.09 L201.50,253.10 L201.75,253.31 L202.00,253.21 L202.25,253.43 L202.50,253.30 L202.75,253.23 L203.00,253.22 L203.25,253.64 L203.50,253.80 L203.75,253.99 L204.00,254.02 L204.25,254.00 L204.50,254.20 L204.75,254.09 L205.00,254.47 L205.25,254.61 L205.50,254.74 L205.75,254.78 L206.00,254.86 L206.25,255.04 L206.50,255.07 L206.75,255.04 L207.00,254.89 L207.25,255.23 L207.50,255.19 L207.75,255.47 L208.00,255.62 L208.25,255.97 L208.50,256.01 L208.75,255.80 L209.00,255.72 L209.25,255.97 L209.50,256.21 L209.75,256.39 L210.00,256.71 L210.25,256.68 L210.50,256.73 L210.75,256.48 L211.00,256.72 L211.25,256.94 L211.50,257.07 L211.75,257.25 L212.00,257.39 L212.25,257.50 L212.50,257.22 L212.75,257.37 L213.00,257.40 L213.25,257.73 L213.50,257.72 L213.75,257.79 L214.00,257.87 L214.25,258.00 L214.50,258.20 L214.75,258.44 L215.00,258.41 L215.25,258.51 L215.50,258.42 L215.75,258.57 L216.00,258.71 L216.25,258.88 L216.50,258.80 L216.75,258.81 L217.00,258.92 L217.25,259.30 L217.50,259.38 L217.75,259.36 L218.00,259.13 L218.25,259.44 L218.50,259.43 L218.75,259.48 L219.00,259.27 L219.25,259.21 L219.50,259.53 L219.75,259.62 L220.00,259.95 L220.25,259.74 L220.50,259.70 L220.75,259.80 L221.00,260.08 L221.25,260.54 L221.50,260.61 L221.75,260.31 L222.00,260.01 L222.25,259.87 L222.50,260.29 L222.75,260.32 L223.00,260.47 L223.25,260.34 L223.50,260.47 L223.75,260.64 L224.00,260.65 L224.25,260.37 L224.50,260.11 L224.75,260.44 L225.00,260.77 L225.25,260.92 L225.50,260.66 L225.75,260.82 L226.00,260.95 L226.25,261.11 L226.50,260.97 L226.75,260.97 L227.00,261.01 L227.25,261.21 L227.50,261.44 L227.75,261.30 L228.00,261.11 L228.25,261.00 L228.50,261.31 L228.75,261.36 L229.00,261.36 L229.25,261.36 L229.50,261.56 L229.75,261.64 L230.00,261.74 L230.25,261.96 L230.50,262.17 L230.75,262.32 L231.00,262.30 L231.25,262.18 L231.50,262.11 L231.75,262.22 L232.00,262.38 L232.25,262.60 L232.50,262.60 L232.75,262.65 L233.00,262.66 L233.25,262.49 L233.50,262.52 L233.75,262.44 L234.00,262.79 L234.25,262.78 L234.50,262.93 L234.75,262.82 L235.00,263.01 L235.25,263.12 L235.50,263.19 L235.75,263.19 L236.00,263.17 L236.25,263.34 L236.50,263.33 L236.75,263.35 L237.00,263.24 L237.25,263.21 L237.50,263.26 L237.75,263.41 L238.00,263.47 L238.25,263.68 L238.50,263.58 L238.75,263.81 L239.00,263.70 L239.25,263.62 L239.50,263.56 L239.75,263.35 L240.00,263.59 L240.25,263.72 L240.50,264.18 L240.75,264.33 L241.00,264.09 L241.25,263.85 L241.50,263.98 L241.75,264.23 L242.00,264.53 L242.25,264.29 L242.50,264.23 L242.75,263.88 L243.00,263.96 L243.25,264.23 L243.50,264.32 L243.75,264.51 L244.00,264.44 L244.25,264.70 L244.50,264.60 L244.75,264.58 L245.00,264.79 L245.25,264.71 L245.50,264.84 L245.75,264.80 L246.00,265.06 L246.25,265.21 L246.50,264.69 L246.75,264.64 L247.00,264.33 L247.25,264.69 L247.50,264.76 L247.75,265.01 L248.00,265.00 L248.25,265.17 L248.50,264.96 L248.75,265.23 L249.00,265.14 L249.25,265.16 L249.50,264.87 L249.75,264.72 L250.00,264.87 L250.25,265.16 L250.50,265.60 L250.75,265.87 L251.00,265.74 L251.25,265.34 L251.50,265.26 L251.75,265.30 L252.00,265.61 L252.25,265.62 L252.50,266.17 L252.75,266.03 L253.00,266.21 L253.25,266.17 L253.50,266.39 L253.75,266.31 L254.00,266.34 L254.25,266.18 L254.50,266.11 L254.75,265.80 L255.00,266.17 L255.25,266.53 L255.50,266.72 L255.75,267.00 L256.00,266.93 L256.25,267.00 L256.50,266.74 L256.75,266.97 L257.00,267.02 L257.25,267.06 L257.50,267.17 L257.75,267.38 L258.00,267.60 L258.25,267.28 L258.50,267.03 L258.75,266.92 L259.00,267.09 L259.25,267.22 L259.50,267.27 L259.75,267.42 L260.00,267.39 L260.25,267.49 L260.50,267.40 L260.75,267.51 L261.00,267.49 L261.25,267.67 L261.50,267.80 L261.75,267.78 L262.00,267.77 L262.25,267.86 L262.50,267.89 L262.75,267.93 L263.00,267.97 L263.25,268.01 L263.50,268.04 L263.75,268.08 L264.00,268.12 L264.25,268.15 L264.50,268.19 L264.75,268.22 L265.00,268.26 L265.25,268.29 L265.50,268.33 L265.75,268.36 L266.00,268.40 L266.25,268.43 L266.50,268.46 L266.75,268.50 L267.00,268.53 L267.25,268.56 L267.50,268.59 L267.75,268.63 L268.00,268.66 L268.25,268.69 L268.50,268.72 L268.75,268.75 L269.00,268.78 L269.25,268.81 L269.50,268.84 L269.75,268.87 L270.00,268.90 L270.25,268.93 L270.50,268.96 L270.75,268.99 L271.00,269.02 L271.25,269.05 L271.50,269.09 L271.75,269.12 L272.00,269.15 L272.25,269.19 L272.50,269.22 L272.75,269.25 L273.00,269.29 L273.25,269.32 L273.50,269.35 L273.75,269.39 L274.00,269.42 L274.25,269.45 L274.50,269.48 L274.75,269.52 L275.00,269.55 L275.25,269.58 L275.50,269.60 L275.75,269.63 L276.00,269.66 L276.25,269.69 L276.50,269.71 L276.75,269.73 L277.00,269.76 L277.25,269.78 L277.50,269.80 L277.75,269.82 L278.00,269.83 L278.25,269.85 L278.50,269.86 L278.75,269.87 L279.00,269.88 L279.25,269.89 L279.50,269.90 L279.75,269.90 L280.00,269.90 L280.25,269.90 L280.50,269.90 L280.75,269.90 L281.00,269.90 L281.25,269.90 L281.50,269.90 L281.75,269.90 L282.00,269.90 L282.25,269.90 L282.50,269.90 L282.75,269.90 L283.00,269.90 L283.25,269.90 L283.50,269.90 L283.75,269.90 L284.00,269.90 L284.25,269.90 L284.50,269.90 L284.75,269.90 L285.00,269.90 L285.25,269.90 L285.50,269.90 L285.75,269.90 L286.00,269.90 L286.25,269.90 L286.50,269.90 L286.75,269.90 L287.00,269.90 L287.25,269.90 L287.50,269.90 L287.75,269.90 L288.00,269.90 L288.25,269.90 L288.50,269.90 L288.75,269.90 L289.00,269.90 L289.25,269.90 L289.50,269.90 L289.75,269.90 L290.00,269.90 L290.25,269.90 L290.50,269.90 L290.75,269.90 L291.00,269.90 L291.25,269.90 L291.50,269.90 L291.75,269.90 L292.00,269.90 L292.25,269.90 L292.50,269.90 L292.75,269.90 L293.00,269.90 L293.25,269.90 L293.50,269.90 L293.75,269.90 L294.00,269.90 L294.25,269.90 L294.50,269.90 L294.75,269.90 L295.00,269.90 L295.25,269.90 L295.50,269.90 L295.75,269.90 L296.00,269.90 L296.25,269.90 L296.50,269.90 L296.75,269.90 L297.00,269.90 L297.25,269.90 L297.50,269.90 L297.75,269.90 L298.00,269.90 L298.25,269.90 L298.50,269.90 L298.75,269.90 L299.00,269.90 L299.25,269.90 L299.50,269.90 L299.75,269.90 L300.00,269.90 L300.25,269.90 L300.50,269.90 L300.75,269.90 L301.00,269.90 L301.25,269.90 L301.50,269.90 L301.75,269.90 L302.00,269.90 L302.25,269.90 L302.50,269.90 L302.75,269.90 L303.00,269.90 L303.25,269.90 L303.50,269.90 L303.75,269.90 L304.00,269.90 L304.25,269.90 L304.50,269.90 L304.75,269.90 L305.00,269.90 L305.25,269.90 L305.50,269.90 L305.75,269.90 L306.00,269.90 L306.25,269.90 L306.50,269.90 L306.75,269.90 L307.00,269.90 L307.25,269.90 L307.50,269.90 L307.75,269.90 L308.00,269.90 L308.25,269.90 L308.50,269.90 L308.75,269.90 L309.00,269.90 L309.25,269.90 L309.50,269.90 L309.75,269.90 L310.00,269.90 L310.25,269.90 L310.50,269.90 L310.75,269.90 L311.00,269.90 L311.25,269.90 L311.50,269.90 L311.75,269.90 L312.00,269.90 L312.25,269.90 L312.50,269.90 L312.75,269.90 L313.00,269.90 L313.25,269.90 L313.50,269.90 L313.75,269.90 L314.00,269.90 L314.25,269.90 L314.50,269.90 L314.75,269.90 L315.00,269.90 L315.25,269.90 L315.50,269.90 L315.75,269.90 L316.00,269.90 L316.25,269.90 L316.50,269.90 L316.75,269.90 L317.00,269.90 L317.25,269.90 L317.50,269.90 L317.75,269.90 L318.00,269.90 L318.25,269.90 L318.50,269.90 L318.75,269.90 L319.00,269.90 L319.25,269.90 L319.50,269.90 L319.75,269.90 L320.00,269.90 L320.25,269.90 L320.50,269.90 L320.75,269.90 L321.00,269.90 L321.25,269.90 L321.50,269.90 L321.75,269.90 L322.00,269.90 L322.25,269.90 L322.50,269.90 L322.75,269.90 L323.00,269.90 L323.25,269.90 L323.50,269.90 L323.75,269.90 L324.00,269.90 L324.25,269.90 L324.50,269.90 L324.75,269.90 L325.00,269.90 L325.25,269.90 L325.50,269.90 L325.75,269.90 L326.00,269.90 L326.25,269.90 L326.50,269.90 L326.75,269.90 L327.00,269.90 L327.25,269.90 L327.50,269.90 L327.75,269.90 L328.00,269.90 L328.25,269.90 L328.50,269.90 L328.75,269.90 L329.00,269.90 L329.25,269.90 L329.50,269.90 L329.75,269.90 L330.00,269.90 L330.25,269.90 L330.50,269.90 L330.75,269.90 L331.00,269.90 L331.25,269.90 L331.50,269.90 L331.75,269.90 L332.00,269.90 L332.25,269.90 L332.50,269.90 L332.75,269.90 L333.00,269.90 L333.25,269.90 L333.50,269.90 L333.75,269.90 L334.00,269.90 L334.25,269.90 L334.50,269.90 L334.75,269.90 L335.00,269.90 L335.25,269.90 L335.50,269.90 L335.75,269.90 L336.00,269.90 L336.25,269.90 L336.50,269.90 L336.75,269.90 L337.00,269.90 L337.25,269.90 L337.50,269.90 L337.75,269.90 L338.00,269.90 L338.25,269.90 L338.50,269.90 L338.75,269.90 L339.00,269.90 L339.25,269.90 L339.50,269.90 L339.75,269.90 L340.00,269.90 L340.25,269.90 L340.50,269.90 L340.75,269.90 L341.00,269.90 L341.25,269.90 L341.50,269.90 L341.75,269.90 L342.00,269.31 L342.25,269.31 L342.50,269.48 L342.75,269.52 L343.00,269.64 L343.25,269.22 L343.50,268.78 L343.75,269.36 L344.00,269.43 L344.25,269.24 L344.50,268.97 L344.75,268.94 L345.00,269.41 L345.25,269.63 L345.50,269.04 L345.75,268.70 L346.00,269.09 L346.25,269.36 L346.50,269.50 L346.75,269.38 L347.00,269.40 L347.25,269.01 L347.50,269.18 L347.75,269.68 L348.00,269.55 L348.25,269.34 L348.50,268.73 L348.75,268.56 L349.00,269.29 L349.25,269.55 L349.50,269.45 L349.75,269.59 L350.00,269.70 L350.25,269.56 L350.50,269.26 L350.75,268.91 L351.00,268.75 L351.25,269.24 L351.50,269.52 L351.75,269.41 L352.00,269.32 L352.25,268.72 L352.50,268.76 L352.75,268.71 L353.00,268.75 L353.25,269.41 L353.50,269.11 L353.75,269.18 L354.00,269.43 L354.25,269.33 L354.50,269.27 L354.75,269.28 L355.00,269.18 L355.25,269.45 L355.50,269.38 L355.75,269.28 L356.00,269.15 L356.25,269.01 L356.50,268.85 L356.75,268.68 L357.00,268.50 L357.25,268.32 L357.50,268.14 L357.75,267.97 L358.00,267.80 L358.25,267.64 L358.50,267.47 L358.75,267.31 L359.00,267.13 L359.25,266.95 L359.50,266.75 L359.75,266.53 L360.00,266.30 L360.25,266.05 L360.50,265.77 L360.75,265.46 L361.00,265.12 L361.25,264.74 L361.50,264.30 L361.75,263.78 L362.00,263.15 L362.25,262.43 L362.50,261.60 L362.75,260.69 L363.00,259.66 L363.25,258.44 L363.50,257.01 L363.75,255.36 L364.00,253.44 L364.25,251.05 L364.50,248.00 L364.75,243.55" stroke-width="2.1"/>
<path d="M364.75,243.55 L365.00,236.85 L365.25,227.25 L365.50,220.63 L365.75,215.27 L366.00,210.00 L366.25,204.62 L366.50,199.35 L366.75,193.73 L367.00,187.28 L367.25,179.61 L367.50,171.24 L367.75,162.82 L368.00,155.00 L368.25,147.94 L368.50,141.25 L368.75,134.73 L369.00,128.18 L369.25,121.40 L369.50,114.36 L369.75,107.21 L370.00,99.73 L370.25,91.38 L370.50,82.21 L370.75,77.44 L371.00,75.86 L371.25,76.04 L371.50,77.88 L371.75,81.96 L372.00,88.78 L372.25,96.48 L372.50,104.23 L372.75,112.21 L373.00,120.00 L373.25,127.35 L373.50,134.43 L373.75,141.51 L374.00,148.82 L374.25,156.64 L374.50,165.91 L374.75,175.78 L375.00,184.66 L375.25,191.05 L375.50,195.86 L375.75,200.03 L376.00,203.68 L376.25,206.90 L376.50,209.82 L376.75,212.53 L377.00,215.12 L377.25,217.53 L377.50,219.70 L377.75,221.55 L378.00,223.00 L378.25,224.23 L378.50,225.41 L378.75,226.47 L379.00,227.32 L379.25,227.89 L379.50,228.10 L379.75,227.90 L380.00,227.38 L380.25,226.64 L380.50,225.76 L380.75,224.85 L381.00,224.00 L381.25,223.23 L381.50,222.47 L381.75,221.70 L382.00,220.89 L382.25,220.01 L382.50,219.04 L382.75,217.96 L383.00,216.73 L383.25,215.29 L383.50,213.41 L383.75,211.13 L384.00,208.53 L384.25,205.68 L384.50,202.64 L384.75,199.48 L385.00,196.28 L385.25,193.09 L385.50,190.00 L385.75,186.94 L386.00,183.79 L386.25,180.55 L386.50,177.18 L386.75,173.67 L387.00,170.00 L387.25,165.36 L387.50,159.77 L387.75,154.47 L388.00,150.69 L388.25,149.67 L388.50,151.88 L388.75,156.32 L389.00,161.84 L389.25,167.27 L389.50,171.62 L389.75,175.72 L390.00,179.78 L390.25,183.69 L390.50,187.34 L390.75,190.63 L391.00,193.62 L391.25,196.41 L391.50,199.05 L391.75,201.57 L392.00,204.01 L392.25,206.41 L392.50,208.82 L392.75,211.27 L393.00,213.80 L393.25,216.43 L393.50,219.10 L393.75,221.78 L394.00,224.40 L394.25,226.92 L394.50,229.30" stroke-width="1.8"/>
<path d="M394.50,229.30 L394.75,231.60 L395.00,233.88 L395.25,236.05 L395.50,238.02 L395.75,239.71 L396.00,240.93 L396.25,242.72 L396.50,244.43 L396.75,244.29 L397.00,244.25 L397.25,243.73 L397.50,243.63 L397.75,243.19 L398.00,242.53 L398.25,241.86 L398.50,241.14 L398.75,240.87 L399.00,240.20 L399.25,239.38 L399.50,238.04 L399.75,237.32 L400.00,236.51 L400.25,236.23 L400.50,236.59 L400.75,237.26 L401.00,237.91 L401.25,238.37 L401.50,239.31 L401.75,240.16 L402.00,241.17 L402.25,241.80 L402.50,242.36 L402.75,242.87 L403.00,242.89 L403.25,243.39 L403.50,243.76 L403.75,244.60 L404.00,245.22 L404.25,245.56 L404.50,246.01 L404.75,246.81 L405.00,247.21 L405.25,247.36 L405.50,247.07 L405.75,246.81 L406.00,246.80 L406.25,246.42 L406.50,246.46 L406.75,245.75 L407.00,245.47 L407.25,244.83 L407.50,244.45 L407.75,243.80 L408.00,242.49 L408.25,241.52 L408.50,239.86 L408.75,238.57 L409.00,236.93 L409.25,235.94 L409.50,234.75 L409.75,234.01 L410.00,233.11 L410.25,233.02 L410.50,232.83 L410.75,233.39 L411.00,234.14 L411.25,235.81 L411.50,237.68 L411.75,239.44 L412.00,240.68 L412.25,241.60 L412.50,242.87 L412.75,244.25 L413.00,245.08 L413.25,245.83 L413.50,246.35 L413.75,247.32 L414.00,248.00 L414.25,248.96 L414.50,249.51 L414.75,250.40 L415.00,250.61 L415.25,250.62 L415.50,250.13 L415.75,249.78 L416.00,250.07 L416.25,249.95 L416.50,249.63 L416.75,249.20 L417.00,249.21 L417.25,249.13 L417.50,249.20 L417.75,248.95 L418.00,248.91 L418.25,248.27 L418.50,248.01 L418.75,247.70 L419.00,247.23 L419.25,247.05 L419.50,246.53 L419.75,246.65 L420.00,246.09 L420.25,246.47 L420.50,246.25 L420.75,246.37 L421.00,245.91 L421.25,245.35 L421.50,244.54 L421.75,244.02 L422.00,244.04 L422.25,244.08 L422.50,243.92 L422.75,243.64 L423.00,243.19 L423.25,243.06 L423.50,243.33 L423.75,243.69 L424.00,243.58 L424.25,243.52 L424.50,243.84 L424.75,244.53 L425.00,244.61 L425.25,244.88 L425.50,244.59 L425.75,245.04 L426.00,245.44 L426.25,246.17 L426.50,245.91 L426.75,245.82 L427.00,245.22 L427.25,245.66 L427.50,245.73 L427.75,246.20 L428.00,246.33 L428.25,246.47 L428.50,246.91 L428.75,246.97 L429.00,247.08 L429.25,246.69 L429.50,246.56 L429.75,246.53 L430.00,247.00 L430.25,247.30 L430.50,247.73 L430.75,247.64 L431.00,247.72 L431.25,247.63 L431.50,247.87 L431.75,248.14 L432.00,248.15 L432.25,248.61 L432.50,248.65 L432.75,249.15 L433.00,249.13 L433.25,249.81 L433.50,249.87 L433.75,250.56 L434.00,250.91 L434.25,251.91 L434.50,252.76 L434.75,253.38 L435.00,253.81 L435.25,254.07 L435.50,254.85 L435.75,255.26 L436.00,255.98 L436.25,256.27 L436.50,256.94 L436.75,257.38 L437.00,258.15 L437.25,258.67 L437.50,259.00 L437.75,259.20 L438.00,259.42 L438.25,259.09 L438.50,259.03 L438.75,259.09 L439.00,259.73 L439.25,260.15 L439.50,260.25 L439.75,260.07 L440.00,259.56 L440.25,259.46 L440.50,259.58 L440.75,259.96 L441.00,259.78 L441.25,259.51 L441.50,259.11 L441.75,259.16 L442.00,258.71 L442.25,258.03 L442.50,257.21 L442.75,256.83 L443.00,256.71 L443.25,257.06 L443.50,257.56 L443.75,258.17 L444.00,258.69 L444.25,258.94 L444.50,259.39 L444.75,259.60 L445.00,260.09 L445.25,260.54 L445.50,260.77 L445.75,260.57 L446.00,260.44 L446.25,260.44 L446.50,260.58 L446.75,260.55 L447.00,260.87 L447.25,261.40 L447.50,261.37 L447.75,261.22 L448.00,260.93 L448.25,260.58 L448.50,260.13 L448.75,259.63 L449.00,259.57 L449.25,259.02 L449.50,258.71 L449.75,258.64 L450.00,258.92 L450.25,259.07 L450.50,258.60 L450.75,258.47 L451.00,258.05 L451.25,257.67 L451.50,257.30 L451.75,256.98 L452.00,257.20 L452.25,257.01 L452.50,257.30 L452.75,257.35 L453.00,257.47 L453.25,257.63 L453.50,257.87 L453.75,258.12 L454.00,258.47 L454.25,258.66 L454.50,258.93 L454.75,258.93 L455.00,259.04 L455.25,259.32 L455.50,259.97 L455.75,260.32 L456.00,260.67 L456.25,260.43 L456.50,260.75 L456.75,261.27 L457.00,261.88 L457.25,262.14 L457.50,262.15 L457.75,262.11 L458.00,262.32 L458.25,262.40 L458.50,262.61 L458.75,263.01 L459.00,263.46 L459.25,263.89 L459.50,263.99 L459.75,263.85 L460.00,263.93 L460.25,263.98 L460.50,264.53 L460.75,264.81 L461.00,265.26 L461.25,265.21 L461.50,264.96 L461.75,265.15 L462.00,265.57 L462.25,265.77 L462.50,265.77 L462.75,265.89 L463.00,266.09 L463.25,266.50 L463.50,266.36 L463.75,266.48 L464.00,266.53 L464.25,266.76 L464.50,266.95 L464.75,266.98 L465.00,266.71 L465.25,267.24 L465.50,267.06 L465.75,267.54 L466.00,267.27 L466.25,267.57 L466.50,267.77 L466.75,267.78 L467.00,267.92 L467.25,267.79 L467.50,267.88 L467.75,267.76 L468.00,267.69 L468.25,267.73 L468.50,267.98 L468.75,268.17 L469.00,268.55 L469.25,268.51 L469.50,268.40 L469.75,267.93 L470.00,267.78 L470.25,268.04 L470.50,268.40 L470.75,268.41 L471.00,268.56 L471.25,268.29 L471.50,268.23 L471.75,268.10 L472.00,268.78 L472.25,269.06 L472.50,268.87 L472.75,268.58 L473.00,268.61 L473.25,268.91 L473.50,268.70 L473.75,268.41 L474.00,268.22 L474.25,268.31 L474.50,268.67 L474.75,268.96 L475.00,268.71 L475.25,268.31 L475.50,267.90 L475.75,267.94 L476.00,268.08 L476.25,268.15 L476.50,268.22 L476.75,268.36 L477.00,268.25 L477.25,268.05 L477.50,267.60 L477.75,267.51 L478.00,267.58 L478.25,267.60 L478.50,267.98 L478.75,268.28 L479.00,268.64 L479.25,268.48 L479.50,268.29 L479.75,268.32 L480.00,268.90 L480.25,268.90 L480.50,269.18 L480.75,269.10 L481.00,269.59 L481.25,269.60 L481.50,269.68 L481.75,269.56 L482.00,269.80 L482.25,270.01 L482.50,270.11 L482.75,269.98 L483.00,269.86 L483.25,270.30 L483.50,270.77 L483.75,270.96 L484.00,270.77 L484.25,270.44 L484.50,270.45 L484.75,270.71 L485.00,270.78 L485.25,270.82 L485.50,270.86 L485.75,271.27 L486.00,271.13 L486.25,271.19 L486.50,270.83 L486.75,270.92 L487.00,270.81 L487.25,271.26 L487.50,271.89 L487.75,271.93 L488.00,271.74 L488.25,271.33 L488.50,271.04 L488.75,271.06 L489.00,270.66 L489.25,271.14 L489.50,271.24 L489.75,271.51 L490.00,271.07 L490.25,271.08 L490.50,271.02 L490.75,271.15 L491.00,270.95 L491.25,270.59 L491.50,270.63 L491.75,270.69 L492.00,271.02 L492.25,270.96 L492.50,270.62 L492.75,270.67 L493.00,270.68 L493.25,270.87 L493.50,270.71 L493.75,270.89 L494.00,271.18 L494.25,271.44 L494.50,271.55 L494.75,271.68 L495.00,272.00 L495.25,272.01 L495.50,271.86 L495.75,271.63 L496.00,271.70 L496.25,271.92 L496.50,272.23 L496.75,272.22 L497.00,272.19 L497.25,271.88 L497.50,272.17 L497.75,272.07 L498.00,272.30 L498.25,271.95 L498.50,271.95 L498.75,271.75 L499.00,272.14 L499.25,272.23 L499.50,272.29 L499.75,271.81 L500.00,271.61 L500.25,271.70 L500.50,272.11 L500.75,271.93 L501.00,271.64 L501.25,271.28 L501.50,271.37 L501.75,271.19 L502.00,271.16 L502.25,271.29 L502.50,271.16 L502.75,271.03 L503.00,270.88 L503.25,271.11 L503.50,270.80 L503.75,270.82 L504.00,270.55 L504.25,270.31 L504.50,269.92 L504.75,269.48 L505.00,269.60 L505.25,269.05 L505.50,269.22 L505.75,268.84 L506.00,269.16 L506.25,269.12 L506.50,269.38 L506.75,269.43 L507.00,269.82 L507.25,269.84 L507.50,270.33 L507.75,270.63 L508.00,271.40 L508.25,271.74 L508.50,272.45 L508.75,272.37 L509.00,272.25 L509.25,271.46 L509.50,271.45 L509.75,270.66 L510.00,270.60 L510.25,269.88 L510.50,269.51 L510.75,268.74 L511.00,268.58 L511.25,268.82 L511.50,268.90 L511.75,269.09 L512.00,269.18 L512.25,269.43 L512.50,269.28 L512.75,269.81 L513.00,270.52 L513.25,271.40 L513.50,271.65 L513.75,271.95" stroke-width="2.1"/>
</g>
<line x1="67.00" y1="95.20" x2="89.90" y2="115.05" stroke="#000" stroke-width="1.35"/><polygon points="93.68,118.33 87.18,116.66 91.11,112.13" fill="#000"/>
<line x1="162.40" y1="50.00" x2="134.40" y2="72.58" stroke="#000" stroke-width="1.35"/><polygon points="130.51,75.71 133.30,69.61 137.06,74.28" fill="#000"/>
<line x1="182.30" y1="76.70" x2="160.78" y2="91.90" stroke="#000" stroke-width="1.35"/><polygon points="156.69,94.79 159.86,88.88 163.32,93.78" fill="#000"/>
<line x1="197.70" y1="100.10" x2="185.88" y2="114.34" stroke="#000" stroke-width="1.35"/><polygon points="182.68,118.18 184.21,111.65 188.82,115.49" fill="#000"/>
<line x1="93.40" y1="215.40" x2="108.29" y2="225.65" stroke="#000" stroke-width="1.6"/><polygon points="112.41,228.48 105.68,227.68 109.25,222.49" fill="#000"/>
<line x1="218.90" y1="222.30" x2="197.80" y2="231.85" stroke="#000" stroke-width="1.6"/><polygon points="193.24,233.91 197.41,228.56 200.01,234.30" fill="#000"/>
<line x1="329.10" y1="115.40" x2="357.64" y2="134.22" stroke="#000" stroke-width="1.6"/><polygon points="361.82,136.98 355.07,136.30 358.54,131.04" fill="#000"/>
<line x1="419.30" y1="134.20" x2="404.01" y2="143.81" stroke="#000" stroke-width="1.6"/><polygon points="399.78,146.47 403.18,140.61 406.53,145.94" fill="#000"/>
<line x1="427.00" y1="215.00" x2="427.00" y2="232.50" stroke="#000" stroke-width="1.6"/><polygon points="427.00,237.50 423.85,231.50 430.15,231.50" fill="#000"/>
<line x1="436.70" y1="215.00" x2="450.36" y2="243.54" stroke="#000" stroke-width="1.6"/><polygon points="452.52,248.05 447.08,244.00 452.77,241.28" fill="#000"/>
<g fill="#000" stroke="#000" stroke-width="0.25">
<text x="39.60" y="150.7" text-anchor="middle" font-size="10.35">1720</text><text x="67.90" y="150.7" text-anchor="middle" font-size="10.35">1700</text><text x="96.20" y="150.7" text-anchor="middle" font-size="10.35">1680</text><text x="124.50" y="150.7" text-anchor="middle" font-size="10.35">1660</text><text x="152.80" y="150.7" text-anchor="middle" font-size="10.35">1640</text><text x="181.10" y="150.7" text-anchor="middle" font-size="10.35">1620</text><text x="209.40" y="150.7" text-anchor="middle" font-size="10.35">1600</text><text x="237.70" y="150.7" text-anchor="middle" font-size="10.35">1580</text>
<text x="21.9" y="307.4" text-anchor="middle" font-size="14.2">4000</text><text x="171.9" y="307.4" text-anchor="middle" font-size="14.2">3000</text><text x="320.7" y="307.4" text-anchor="middle" font-size="14.2">2000</text><text x="469.2" y="307.4" text-anchor="middle" font-size="14.2">1000</text>
<text class="b" x="141.1" y="169.2" text-anchor="middle" font-size="11.65">Wavenumber (cm<tspan font-size="7.2" dy="-4.2">-1</tspan><tspan dy="4.2">)</tspan></text>
<text class="b" x="53" y="91.4" font-size="11.1">turn</text>
<text class="b" x="168.6" y="51.6" font-size="11.2">α-helix</text>
<text class="b" x="188.2" y="78.6" font-size="11.3">unordered</text>
<text class="b" x="204.6" y="102.3" font-size="11.2">β-sheet</text>
<text class="b" x="49.8" y="207" font-size="13">Amide A</text>
<text class="b" x="222" y="225.1" font-size="12.7">C-H stretch</text>
<text class="b" x="297.3" y="110" font-size="12.7">Amide I</text>
<text class="b" x="427.5" y="136.6" font-size="12.7">Amide II</text>
<text class="b" x="420" y="208.2" font-size="12.7">P-O stretch</text>
<text class="b" x="255.8" y="332" text-anchor="middle" font-size="17.2">Wavenumber (cm<tspan font-size="10.2" dy="-6.4">-1</tspan><tspan dy="6.4">)</tspan></text>
<text class="b" transform="translate(13.4,148.3) rotate(-90)" text-anchor="middle" font-size="17">Absorbance</text>
</g>
</svg>
</body></html>
